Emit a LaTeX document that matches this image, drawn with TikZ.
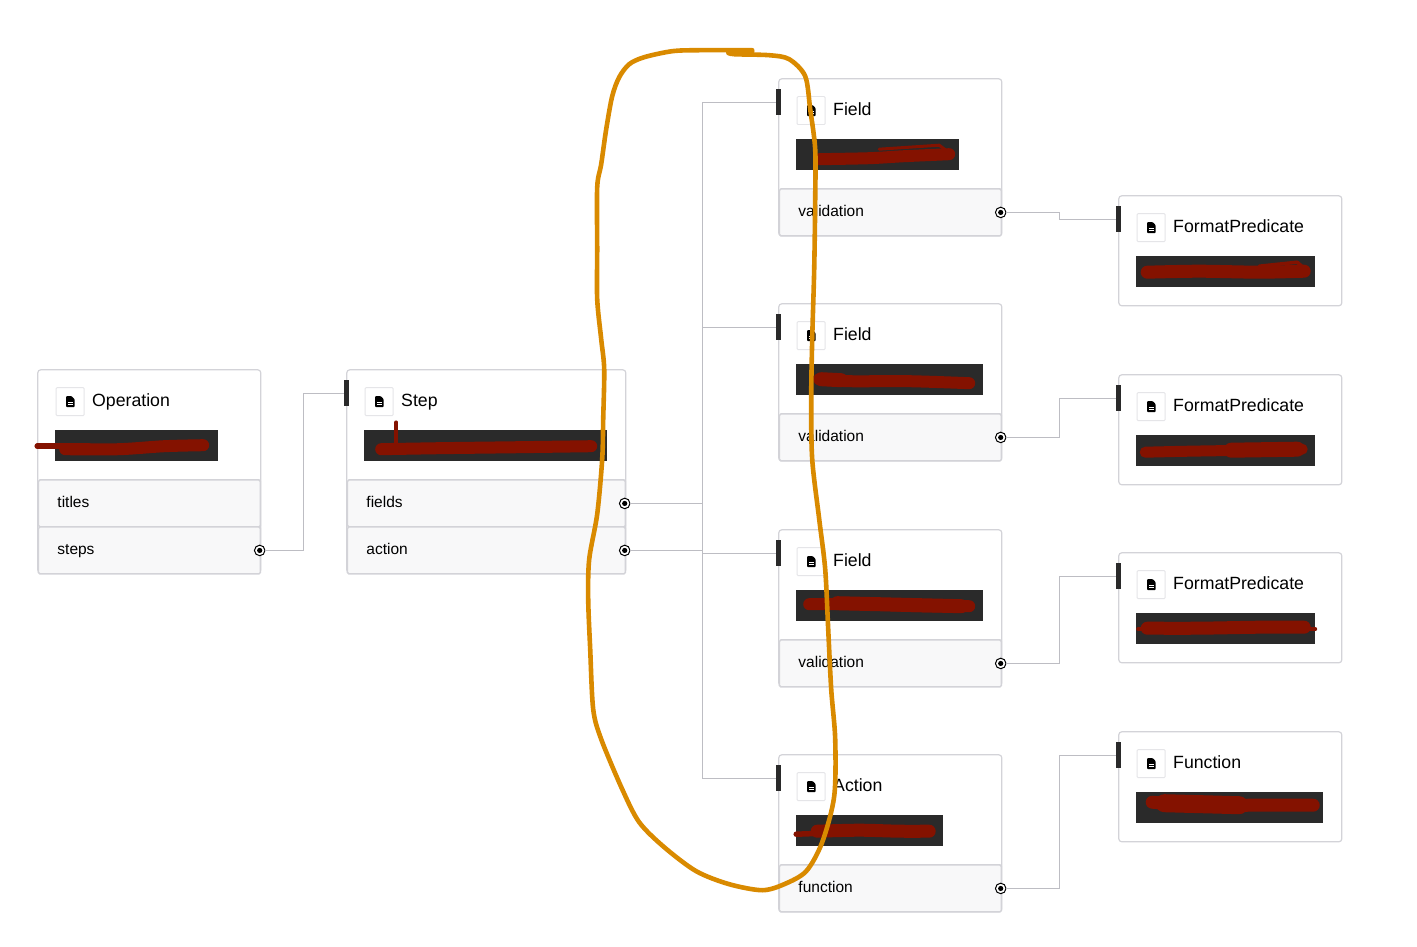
\documentclass[tikz,border=0pt]{standalone}
\usepackage{fontspec}
\setmainfont{Liberation Sans}
\usetikzlibrary{positioning}
\definecolor{edgegray}{HTML}{D3D3D8}
\definecolor{rowgray}{HTML}{F8F8F9}
\definecolor{wiregray}{HTML}{BDBDC3}
\definecolor{bardark}{HTML}{2A2A2A}
\definecolor{scribblered}{HTML}{841200}
\definecolor{penorange}{HTML}{D98A00}
\tikzset{
  card/.style={draw=edgegray,line width=1.2pt,fill=white,rounded corners=3pt,anchor=north west,inner sep=0pt},
  rowbox/.style={draw=edgegray,line width=1.5pt,fill=rowgray,rounded corners=1.5pt,anchor=north west,inner sep=0pt,minimum height=47pt,text height=11pt,text depth=3.5pt,font=\fontsize{15.5}{15.5}\selectfont},
  iconbox/.style={draw=edgegray!60,line width=.8pt,fill=white,rounded corners=1pt,anchor=north west,inner sep=0pt,minimum size=28pt},
  title/.style={inner sep=0pt,anchor=west,text height=13pt,text depth=4pt,font=\fontsize{17.7}{17.7}\selectfont},
  bar/.style={fill=bardark,anchor=north west,inner sep=0pt,minimum height=30.5pt},
  sock/.style={fill=bardark,inner sep=0pt,minimum width=5pt,minimum height=26pt},
  port/.style={draw=black,line width=1pt,fill=white,circle,inner sep=0pt,minimum size=10.5pt},
  wire/.style={draw=wiregray,line width=1pt},
  scribble/.style={draw=scribblered,line width=10pt,line cap=round,line join=round},
  pen/.style={draw=penorange,line width=4.6pt,line cap=round,line join=round},
  docglyph/.pic={
    \fill[black,rounded corners=.8pt] (-4,-5.5) -- (1.5,-5.5) -- (4.5,-2.5) -- (4.5,5.5) -- (-4,5.5) -- cycle;
    \draw[white,line width=.9pt] (-2.2,.8) -- (2.5,.8) (-2.2,3) -- (2.5,3);
  }
}
\begin{document}
\begin{tikzpicture}[x=1pt,y=-1pt]
\useasboundingbox (.8,.8) rectangle (1417.8,947.8);

%%%% cards
%%%%
\foreach \n/\cx/\cy/\cw/\ch/\bw/\lab in{
op/38/370/223/203/163/Operation,
step/347/370/279/203/243/Step,
fa/779/79/223/157/163/Field,
fb/779/304/223/157/187/Field,
fc/779/530/223/156/187/Field,
act/779/755/223/157/147/Action,
pa/1119/196/223/110/179/FormatPredicate,
pb/1119/375/223/110/179/FormatPredicate,
pc/1119/553/223/110/179/FormatPredicate,
fn/1119/732/223/110/187/Function%
}{
\node[card,minimum width=\cw pt,minimum height=\ch pt](\n) at(\cx,\cy) {};
\node[iconbox](\n-icon) at(\cx+18.5,\cy+18) {};
\pic at(\n-icon) {docglyph};
\node[title,right=7.5pt of \n-icon](\n-title) {\lab};
\node[bar,minimum width=\bw pt](\n-bar) at(\cx+18,\cy+61) {};
}

%%%% sockets
%%%%
\foreach \n/\cx/\cy in{
step/347/370,fa/779/79,fb/779/304,fc/779/530,act/779/755,
pa/1119/196,pb/1119/375,pc/1119/553,fn/1119/732%
}{
\node[sock](\n-sock) at(\cx,\cy+24) {};
}

%%%% rows
%%%%
\foreach \n/\cx/\cy/\cw/\lab in{
titles/38.5/480/222/titles,
steps/38.5/527/222/steps,
fields/347.5/480/278/fields,
action/347.5/527/278/action,
vala/779.5/189/222/validation,
valb/779.5/414/222/validation,
valc/779.5/640/222/validation,
func/779.5/865/222/function%
}{
\node[rowbox,minimum width=\cw pt,text width=\cw pt-38pt,align=left](\n) at(\cx,\cy) {\lab};
}

%%%% ports
%%%%
\foreach \n/\u in{
psteps/steps,pfields/fields,paction/action,pvala/vala,pvalb/valb,pvalc/valc,pfunc/func%
}{
\node[port,xshift=-1.5pt](\n) at(\u.east) {};
\fill (\n) circle (2.6pt);
}

%%%% connectors
%%%%
\coordinate(busl) at(304,0);
\coordinate(busm) at(703,0);
\coordinate(busr) at(1060.5,0);

\draw[wire] (psteps.east) -- (psteps.east -| busl) |- (step-sock.west);

\foreach \v in{
fa,fb,fc,act%
}{
\draw[wire] (pfields.east) -- (pfields.east -| busm) |- (\v-sock.west);
}
\draw[wire] (paction.east) -- (paction.east -| busm);

\foreach \u \v in{
pvala/pa,pvalb/pb,pvalc/pc,pfunc/fn%
}{
\draw[wire] (\u.east) -- (\u.east -| busr) |- (\v-sock.west);
}

%%%% red scribbles
%%%%
\draw[scribble,line width=5.5pt] (38,447) -- (90,447);
\draw[scribble,line width=12pt] plot[smooth] coordinates {(66,450) (120,450) (165,447) (204,446)};
\draw[scribble,line width=3.5pt] (397,423) -- (397,444);
\draw[scribble,line width=12pt] plot[smooth] coordinates {(382,450) (440,449) (520,448) (592,447)};
\draw[scribble,line width=12pt] plot[smooth] coordinates {(820,160) (870,159) (905,157) (950,155)};
\draw[scribble,line width=3pt] (880,150) -- (940,146) -- (948,152);
\draw[scribble,line width=12pt] plot[smooth] coordinates {(820,380) (850,382) (910,382) (970,384)};
\draw[scribble,line width=14pt] (822,380) -- (842,381);
\draw[scribble,line width=12pt] plot[smooth] coordinates {(810,605) (860,605) (920,607) (970,607)};
\draw[scribble,line width=14pt] (838,604) -- (962,607);
\draw[scribble,line width=5.5pt] (797,835) -- (825,834);
\draw[scribble,line width=13pt] plot[smooth] coordinates {(818,832) (860,831) (900,832) (930,832)};
\draw[scribble,line width=13pt] plot[smooth] coordinates {(1148,273) (1200,272) (1260,273) (1305,272)};
\draw[scribble,line width=3.5pt] (1260,267) -- (1298,263) -- (1306,270);
\draw[scribble,line width=11pt] plot[smooth] coordinates {(1146,453) (1190,452) (1250,451) (1303,450)};
\draw[scribble,line width=15pt] (1232,451) -- (1298,450);
\draw[scribble,line width=4pt] (1139,630) -- (1316,630);
\draw[scribble,line width=13pt] plot[smooth] coordinates {(1148,629) (1200,629) (1260,628) (1305,628)};
\draw[scribble,line width=13pt] plot[smooth] coordinates {(1153,803) (1200,806) (1260,806) (1314,806)};
\draw[scribble,line width=18pt] (1165,804) -- (1240,806);

%%%% orange pen
%%%%
\draw[pen] plot[smooth,tension=.5] coordinates {
(753,51) (700,51) (673,52) (645,58) (630,65) (620,78) (613,97) (607,130) (602,165) (598,188)
(598,250) (598,300) (602,340) (605,370) (604,420) (603,460) (598,515) (590,560) (589,600)
(591,650) (594,710) (602,740) (623,790) (640,823) (665,848) (697,872) (730,885) (763,891)
(785,885) (807,872) (823,843) (835,797) (836,740) (832,690) (829,630) (826,570) (820,520)
(813,460) (812,400) (813,340) (815,270) (816,200) (816,150) (811,110) (806,77) (790,60)
(770,56) (735,55) (730,53) (753,52)};

\end{tikzpicture}
\end{document}
